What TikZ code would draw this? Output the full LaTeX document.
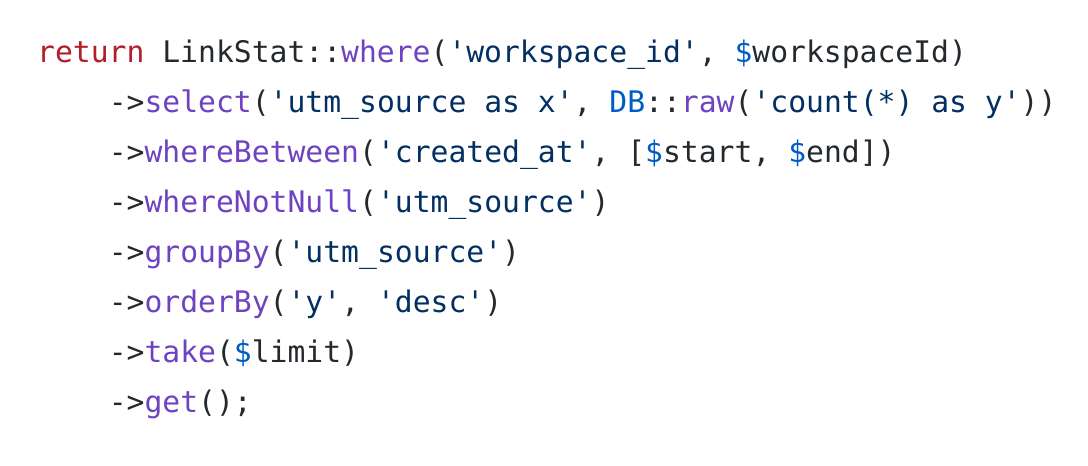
\documentclass[tikz,border=0pt]{standalone}
\usepackage{fontspec}
\setmonofont{DejaVu Sans Mono}
\usepackage{xcolor}
\definecolor{kwred}{HTML}{B31D28}
\definecolor{fnpurple}{HTML}{6F42C1}
\definecolor{strnavy}{HTML}{032F62}
\definecolor{varblue}{HTML}{005CC5}
\definecolor{plain}{HTML}{24292E}
\newcommand{\kw}[1]{\textcolor{kwred}{#1}}
\newcommand{\fn}[1]{\textcolor{fnpurple}{#1}}
\newcommand{\str}[1]{\textcolor{strnavy}{#1}}
\newcommand{\vr}[1]{\textcolor{varblue}{#1}}

\begin{document}
\begin{tikzpicture}[x=1pt,y=-1pt,
    codeline/.style={anchor=base west, inner sep=0pt, text=plain,
        font=\ttfamily\fontsize{29.7}{30}\selectfont}]
    \useasboundingbox[fill=white] (0,0) rectangle (1088,466);
    \node[codeline] (l1) at (37,62) {\kw{return} LinkStat::\fn{where}(\str{'workspace\_id'}, \vr{\$}workspaceId)};
    \node[codeline] (l2) at (108.6,112) {->\fn{select}(\str{'utm\_source as x'}, \vr{DB}::\fn{raw}(\str{'count(*) as y'}))};
    \node[codeline] (l3) at (108.6,162) {->\fn{whereBetween}(\str{'created\_at'}, [\vr{\$}start, \vr{\$}end])};
    \node[codeline] (l4) at (108.6,212) {->\fn{whereNotNull}(\str{'utm\_source'})};
    \node[codeline] (l5) at (108.6,262) {->\fn{groupBy}(\str{'utm\_source'})};
    \node[codeline] (l6) at (108.6,312) {->\fn{orderBy}(\str{'y'}, \str{'desc'})};
    \node[codeline] (l7) at (108.6,362) {->\fn{take}(\vr{\$}limit)};
    \node[codeline] (l8) at (108.6,412) {->\fn{get}();};
\end{tikzpicture}
\end{document}
